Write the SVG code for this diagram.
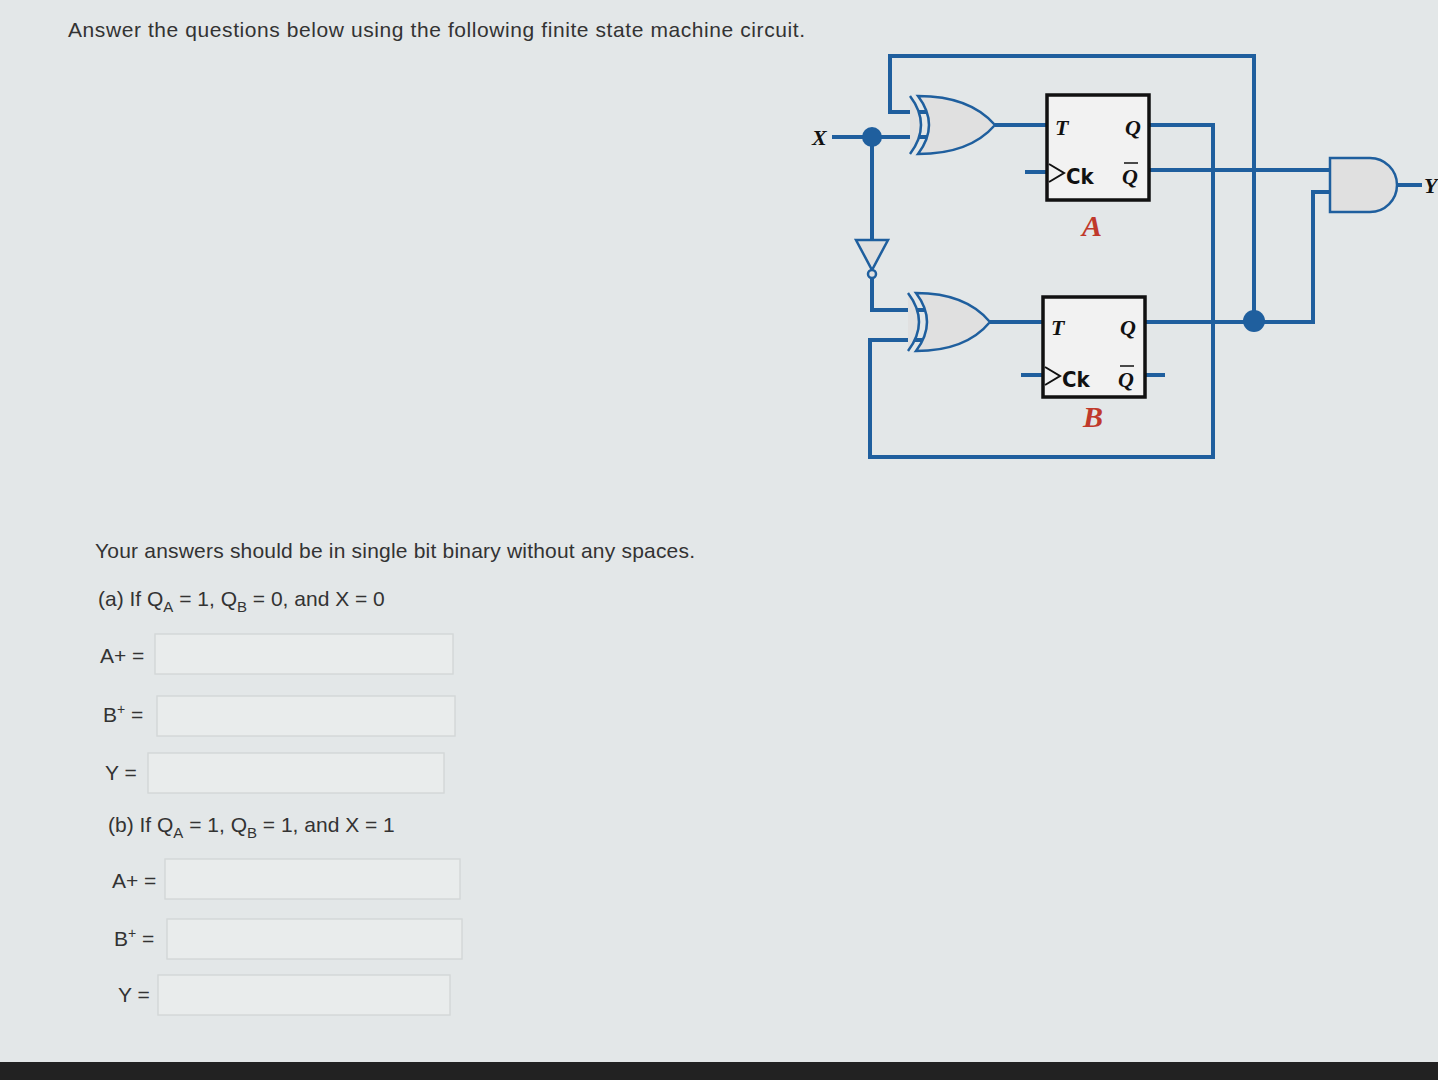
<svg xmlns="http://www.w3.org/2000/svg" width="1438" height="1080" viewBox="0 0 1438 1080">
<style>
.w{fill:none;stroke:#1f5f9e;stroke-width:4}
.g{fill:#e0e0e0;stroke:#1f5f9e;stroke-width:2.5}
.ff{fill:#f2f2f2;stroke:#111;stroke-width:3.5}
.t{font-family:"Liberation Sans",Arial,sans-serif;font-size:21px;fill:#333}
.p{font-family:"Liberation Serif",serif;font-style:italic;font-weight:bold;font-size:22px;fill:#111}
.c{font-family:"DejaVu Sans Condensed","DejaVu Sans",sans-serif;font-weight:bold;font-size:22px;fill:#111}
.n{font-family:"Liberation Serif",serif;font-style:italic;font-weight:bold;font-size:30px;fill:#c0392b}
.box{fill:#e9ecec;stroke:#d4d8d8;stroke-width:1.5}
</style>
<rect width="1438" height="1080" fill="#e3e7e8"/>
<rect x="0" y="1062" width="1438" height="18" fill="#222"/>
<text class="t" x="68" y="37" font-size="22" textLength="737">Answer the questions below using the following finite state machine circuit.</text>
<g id="connectors">
<path class="w" d="M832 137H930"/>
<path class="w" d="M872 137V240M872 278V310H930"/>
<path class="w" d="M1254 321V56H890V112H930"/>
<path class="w" d="M995 125H1047"/>
<path class="w" d="M990 322H1043"/>
<path class="w" d="M1149 125H1213V457H870V340H930"/>
<path class="w" d="M1149 170H1335"/>
<path class="w" d="M1145 322H1313V192H1335"/>
<path class="w" d="M1395 185H1422"/>
<path class="w" d="M1025 172H1047M1021 375H1043M1145 375H1165"/>
<circle cx="872" cy="137" r="10" fill="#1f5f9e"/>
<circle cx="1254" cy="321" r="11" fill="#1f5f9e"/>
</g>
<g id="xorA"><path class="g" d="M918 96Q940 125 918 154Q970 154 995 125Q970 96 918 96Z"/><path class="g" fill="none" d="M910 96Q932 125 910 154"/></g>
<g id="xorB"><path class="g" d="M916 293Q938 322 916 351Q966 351 990 322Q966 293 916 293Z"/><path class="g" fill="none" d="M908 293Q930 322 908 351"/></g>
<g id="inv"><path class="g" d="M856 240H888L872 270Z"/><circle class="g" cx="872" cy="274" r="4" fill="#fff"/></g>
<g id="and"><path class="g" d="M1330 158H1370A27 27 0 0 1 1370 212H1330Z"/></g>
<g id="ffA"><rect class="ff" x="1047" y="95" width="102" height="105"/>
<text class="p" x="1055" y="135">T</text><text class="p" x="1125" y="135">Q</text>
<path d="M1049 164L1064 173L1049 182" fill="none" stroke="#111" stroke-width="2"/>
<text class="c" x="1066" y="184">Ck</text><text class="p" x="1122" y="184">Q</text><path d="M1124 163H1138" stroke="#111" stroke-width="1.5"/>
<text class="n" x="1082" y="236">A</text></g>
<g id="ffB"><rect class="ff" x="1043" y="297" width="102" height="100"/>
<text class="p" x="1051" y="335">T</text><text class="p" x="1120" y="335">Q</text>
<path d="M1045 367L1060 376L1045 385" fill="none" stroke="#111" stroke-width="2"/>
<text class="c" x="1062" y="387">Ck</text><text class="p" x="1118" y="387">Q</text><path d="M1120 366H1134" stroke="#111" stroke-width="1.5"/>
<text class="n" x="1083" y="427">B</text></g>
<text class="p" x="812" y="145">X</text>
<text class="p" x="1424" y="193">Y</text>
<text class="t" x="95" y="558" textLength="600">Your answers should be in single bit binary without any spaces.</text>
<text class="t" x="98" y="606">(a) If Q<tspan font-size="15" dy="6">A</tspan><tspan dy="-6"> = 1, Q</tspan><tspan font-size="15" dy="6">B</tspan><tspan dy="-6"> = 0, and X = 0</tspan></text>
<text class="t" x="100" y="663">A+ =</text><rect class="box" x="155" y="634" width="298" height="40"/>
<text class="t" x="103" y="722">B<tspan font-size="14" dy="-8">+</tspan><tspan dy="8"> =</tspan></text><rect class="box" x="157" y="696" width="298" height="40"/>
<text class="t" x="105" y="780">Y =</text><rect class="box" x="148" y="753" width="296" height="40"/>
<text class="t" x="108" y="832">(b) If Q<tspan font-size="15" dy="6">A</tspan><tspan dy="-6"> = 1, Q</tspan><tspan font-size="15" dy="6">B</tspan><tspan dy="-6"> = 1, and X = 1</tspan></text>
<text class="t" x="112" y="888">A+ =</text><rect class="box" x="165" y="859" width="295" height="40"/>
<text class="t" x="114" y="946">B<tspan font-size="14" dy="-8">+</tspan><tspan dy="8"> =</tspan></text><rect class="box" x="167" y="919" width="295" height="40"/>
<text class="t" x="118" y="1002">Y =</text><rect class="box" x="158" y="975" width="292" height="40"/>
</svg>
